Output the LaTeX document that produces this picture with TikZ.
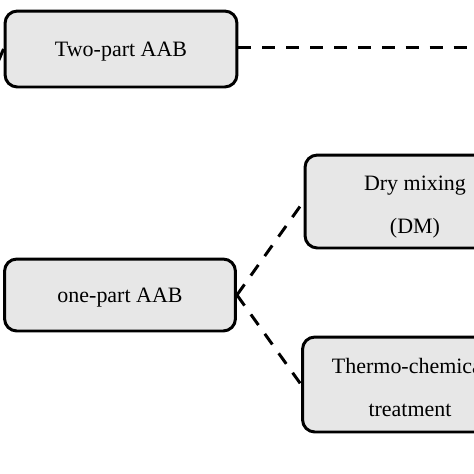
\documentclass[tikz,border=0pt]{standalone}
\usepackage{fontspec}
\setmainfont{Liberation Serif}
\definecolor{boxgray}{RGB}{231,231,231}
\tikzset{
  aabbox/.style={draw, line width=1.7pt, rounded corners=7pt, fill=boxgray, align=center, inner sep=0pt, text depth=0pt, font=\fontsize{12.5}{24}\selectfont},
  dashlink/.style={line width=1.7pt, dash pattern=on 7.4pt off 6.2pt}
}
\begin{document}
\begin{tikzpicture}[x=0.02cm, y=-0.02cm]
\useasboundingbox (0,0) rectangle (474,474);
\node[aabbox, minimum width=4.64cm, minimum height=1.52cm] (twopart) at (121,49){Two-part AAB};
\node[aabbox, minimum width=4.62cm, minimum height=1.44cm] (onepart) at (120,295){one-part AAB};
\node[aabbox, minimum width=4.4cm, minimum height=1.86cm, text height=36pt] (drymix) at (415,201.5){Dry mixing\\(DM)};
\node[aabbox, minimum width=4.3cm, minimum height=1.9cm, text height=36pt] (thermo) at (410,384.5){Thermo-chemical\\treatment};
\coordinate (parent) at (-2,62);
\coordinate (twoend) at (468,47.5);
\draw[line width=1.7pt](parent) -- (twopart.west);
\draw[dashlink](twopart.east |- twoend) -- (twoend);
\draw[dashlink](onepart.east) -- (drymix.west);
\draw[dashlink](onepart.east) -- (thermo.west);
\end{tikzpicture}
\end{document}
